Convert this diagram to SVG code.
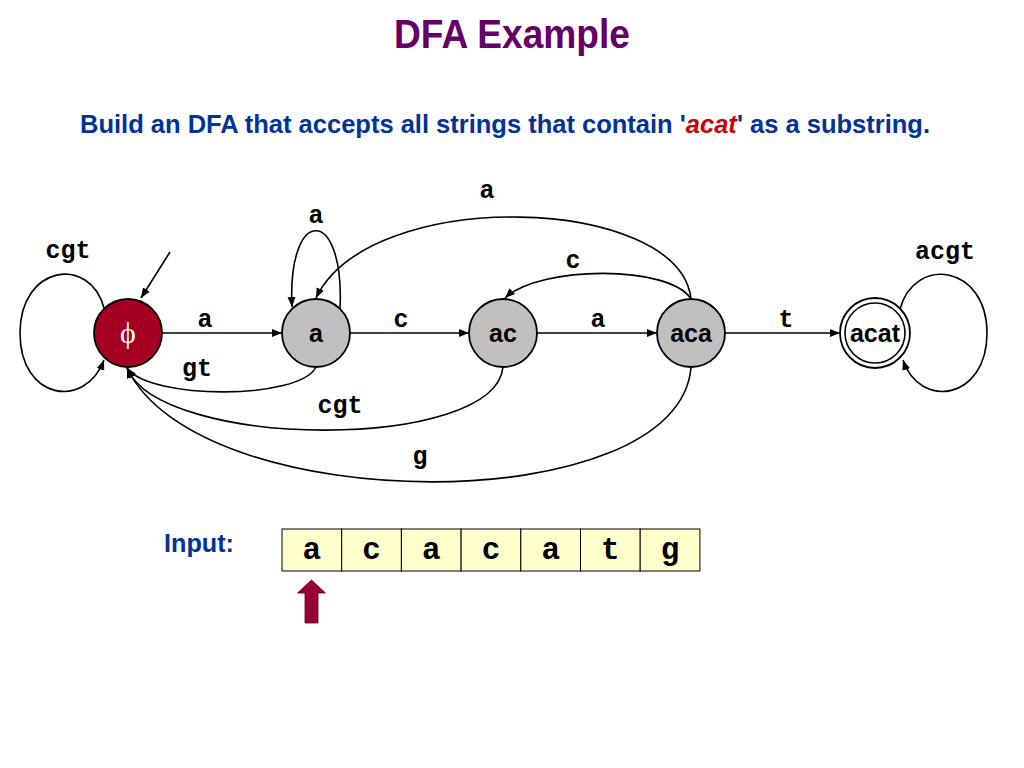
<svg xmlns="http://www.w3.org/2000/svg" width="1024" height="768" viewBox="0 0 1024 768">
<style>
.title{font-family:"Liberation Sans",Arial,sans-serif;font-weight:bold;font-size:40px;fill:#660066}
.sub{font-family:"Liberation Sans",Arial,sans-serif;font-weight:bold;font-size:25.5px;fill:#003399}
.red{fill:#CC0000;font-style:italic}
.node{stroke:#000;stroke-width:1.8}
.gray{fill:#C0C0C0}
.nl{font-family:"Liberation Sans",Arial,sans-serif;font-weight:bold;font-size:25px;fill:#000;text-anchor:middle}
.el{font-family:"Liberation Mono","Courier New",monospace;font-weight:bold;font-size:25px;fill:#000;text-anchor:middle}
.edge{fill:none;stroke:#000;stroke-width:1.6;marker-end:url(#arr)}
.cell{fill:#FFFFCC;stroke:#000;stroke-width:1}
.tape{font-family:"Liberation Mono","Courier New",monospace;font-weight:bold;font-size:31px;fill:#000;text-anchor:middle}
</style>
<defs>
<marker id="arr" viewBox="0 0 10 10" refX="10" refY="5" markerWidth="10" markerHeight="10" markerUnits="userSpaceOnUse" orient="auto">
<path d="M0,1 L10,5 L0,9 Z" fill="#000"/>
</marker>
</defs>
<rect width="1024" height="768" fill="#fff"/>
<text class="title" x="512" y="48" text-anchor="middle" textLength="236" lengthAdjust="spacingAndGlyphs">DFA Example</text>
<text class="sub" x="80" y="133" textLength="850" lengthAdjust="spacingAndGlyphs">Build an DFA that accepts all strings that contain '<tspan class="red">acat</tspan>' as a substring.</text>

<g id="connectors">
<path class="edge" d="M170,252 L141,298"/>
<path class="edge" d="M104,308 C90,255 20,265 20,333 C20,400 85,410 104,360"/>
<path class="edge" d="M162,333 L282,333"/>
<path class="edge" d="M340,309 C345,205 287,205 292,307"/>
<path class="edge" d="M350,333 L469,333"/>
<path class="edge" d="M537,333 L657,333"/>
<path class="edge" d="M725,333 L840,333"/>
<path class="edge" d="M691,299 C680,195 370,185 316,298"/>
<path class="edge" d="M691,299 C670,265 540,265 505,298"/>
<path class="edge" d="M316,367 C300,400 150,400 127,368"/>
<path class="edge" d="M503,367 C495,452 160,450 127,368"/>
<path class="edge" d="M691,367 C680,520 200,520 127,368"/>
<path class="edge" d="M900,309 C915,255 987,265 987,333 C987,400 920,410 903,360"/>
<text class="el" x="68" y="258">cgt</text>
<text class="el" x="205" y="327">a</text>
<text class="el" x="316" y="223">a</text>
<text class="el" x="487" y="198">a</text>
<text class="el" x="573" y="268">c</text>
<text class="el" x="401" y="327">c</text>
<text class="el" x="598" y="327">a</text>
<text class="el" x="786" y="327">t</text>
<text class="el" x="945" y="259">acgt</text>
<text class="el" x="197" y="376">gt</text>
<text class="el" x="340" y="413">cgt</text>
<text class="el" x="420" y="464">g</text>
</g>

<g id="n_phi">
<circle class="node" cx="128" cy="333" r="34" fill="#A50021"/>
<text x="128" y="343" text-anchor="middle" font-family="'Liberation Serif','DejaVu Serif',serif" font-size="30" fill="#fff">ϕ</text>
</g>
<g id="n_a">
<circle class="node gray" cx="316" cy="333" r="34"/>
<text class="nl" x="316" y="342">a</text>
</g>
<g id="n_ac">
<circle class="node gray" cx="503" cy="333" r="34"/>
<text class="nl" x="503" y="342">ac</text>
</g>
<g id="n_aca">
<circle class="node gray" cx="691" cy="333" r="34"/>
<text class="nl" x="691" y="342">aca</text>
</g>
<g id="n_acat">
<circle class="node" cx="875" cy="333" r="35" fill="#fff" stroke-width="1.6"/>
<circle cx="875" cy="333" r="30" fill="none" stroke="#000" stroke-width="1.6"/>
<text class="nl" x="875" y="342">acat</text>
</g>

<g id="input">
<text class="sub" x="164" y="552" font-size="22" textLength="70" lengthAdjust="spacingAndGlyphs">Input:</text>
<rect class="cell" x="282" y="529" width="59.7" height="42"/>
<rect class="cell" x="341.7" y="529" width="59.7" height="42"/>
<rect class="cell" x="401.4" y="529" width="59.7" height="42"/>
<rect class="cell" x="461.1" y="529" width="59.7" height="42"/>
<rect class="cell" x="520.8" y="529" width="59.7" height="42"/>
<rect class="cell" x="580.5" y="529" width="59.7" height="42"/>
<rect class="cell" x="640.2" y="529" width="59.7" height="42"/>
<text class="tape" x="311.8" y="559">a</text>
<text class="tape" x="371.5" y="559">c</text>
<text class="tape" x="431.2" y="559">a</text>
<text class="tape" x="491" y="559">c</text>
<text class="tape" x="550.7" y="559">a</text>
<text class="tape" x="610.4" y="559">t</text>
<text class="tape" x="670.1" y="559">g</text>
<path d="M311.5,580 L325.5,593 L318,593 L318,623 L305,623 L305,593 L297.5,593 Z" fill="#990033" stroke="#660022" stroke-width="0.8"/>
</g>
</svg>
